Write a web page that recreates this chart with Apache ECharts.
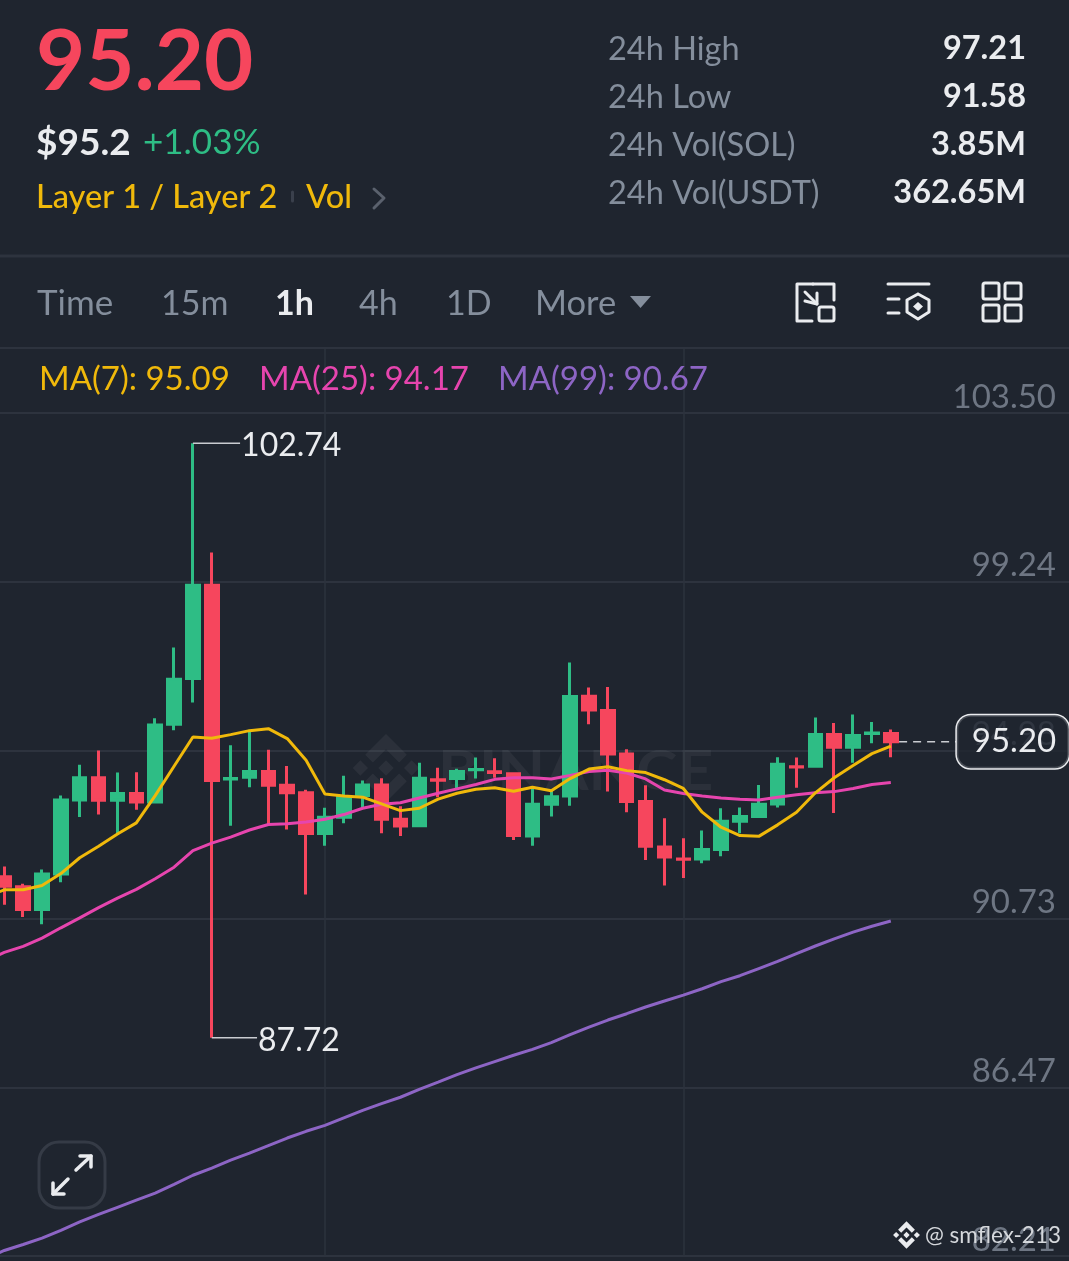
<!DOCTYPE html>
<html><head><meta charset="utf-8">
<style>html,body{margin:0;padding:0;background:#1f252f}#c{width:1069px;height:1261px}</style>
<script src="https://cdn.jsdelivr.net/npm/echarts@6/dist/echarts.min.js"></script>
</head><body><div id="c"></div>
<script>
// Candles: open, close, low, high
const opens  = ['-',91.79,91.54,90.96,91.86,93.73,94.29,93.72,93.89,93.68,95.64,96.80,99.15,94.26,94.30,94.45,94.10,93.91,92.88,93.29,93.84,94.11,93.24,93.08,94.24,94.27,94.49,94.44,94.39,92.82,93.62,93.83,96.35,95.99,94.89,93.69,92.54,92.24,92.24,92.48,93.19,93.31,93.63,94.57,94.58,95.38,95.06,95.41,95.41];
const closes = ['-',91.55,90.96,91.86,93.73,94.29,93.72,93.89,93.68,95.62,96.78,99.15,94.22,94.27,94.45,94.10,93.91,92.88,93.29,93.79,94.11,93.24,93.07,94.28,94.23,94.45,94.50,94.42,92.83,93.62,93.81,96.34,96.00,94.89,93.69,92.56,92.29,92.23,92.48,93.19,93.31,93.62,94.63,94.56,95.38,95.06,95.36,95.42,95.20];
const lows   = ['-',91.08,90.77,90.59,91.65,93.30,93.36,92.89,93.48,93.68,95.49,96.19,87.72,93.08,94.05,93.11,92.98,91.34,92.57,93.14,93.55,92.89,92.82,93.08,93.80,94.01,94.27,94.29,92.72,92.57,93.31,93.58,95.64,93.94,93.42,92.21,91.57,91.76,92.13,92.31,92.89,93.29,93.54,94.04,94.58,93.40,94.67,95.16,94.81];
const highs  = ['-',92.05,91.61,91.97,93.84,94.62,94.98,94.42,94.43,95.79,97.58,102.74,99.98,95.11,95.50,95.00,94.59,93.99,93.53,94.34,94.22,94.28,93.57,94.67,94.54,94.52,94.80,94.78,94.42,94.01,93.97,97.20,96.57,96.58,95.01,94.10,93.27,92.76,92.96,93.52,93.54,94.11,94.81,94.80,95.81,95.67,95.89,95.70,95.51];
const ma7  = [91.27,91.46,91.46,91.57,91.87,92.27,92.56,92.87,93.15,93.84,94.58,95.32,95.29,95.38,95.48,95.53,95.28,94.73,93.88,93.83,93.80,93.63,93.46,93.52,93.75,93.90,94.00,94.04,93.95,94.05,93.96,94.27,94.51,94.57,94.47,94.42,94.24,94.02,93.42,93.04,92.83,92.81,93.10,93.42,93.91,94.29,94.60,94.90,95.09];
const ma25 = [89.66,89.88,90.03,90.24,90.50,90.75,91.01,91.25,91.47,91.74,92.03,92.45,92.64,92.79,92.97,93.11,93.13,93.17,93.24,93.36,93.52,93.62,93.66,93.78,93.90,94.01,94.12,94.25,94.29,94.29,94.26,94.35,94.45,94.48,94.41,94.26,93.98,93.89,93.83,93.78,93.75,93.73,93.80,93.86,93.91,93.94,94.02,94.12,94.17];
const ma99 = [82.15,82.35,82.50,82.66,82.86,83.07,83.26,83.44,83.62,83.80,84.02,84.25,84.43,84.63,84.81,85.00,85.19,85.36,85.51,85.70,85.89,86.06,86.22,86.42,86.60,86.79,86.96,87.12,87.28,87.43,87.60,87.80,87.99,88.17,88.33,88.50,88.65,88.80,88.96,89.14,89.29,89.47,89.65,89.85,90.04,90.22,90.39,90.54,90.67];
const yTicks = [82.21,86.47,90.73,94.98,99.24,103.50];
const hourLabels = Array.from({length:58},(_, i)=>'h'+i);
const highMark = 102.74, lowMark = 87.72, lastPrice = 95.20;
const candles = opens.map((o,i)=>[o,closes[i],lows[i],highs[i]]);

const FONT='Lato';
const BG='#1f252f', GRID='#2d333e', RED='#f6465d', GREEN='#2ebd85', YEL='#f0b90b', PINK='#e645ae', PUR='#8d65c5', GRAY='#848e9c', WHITE='#eaecef', AXIS='#6e7683';

const T=(text,x,y,size,fill,weight,align)=>({type:'text',z:10,x,y,style:{text,fontFamily:FONT,fontSize:size,fill,fontWeight:weight||400,textAlign:align||'left',textVerticalAlign:'middle'}});
const L=(x1,y1,x2,y2,stroke,w)=>({type:'line',z:10,shape:{x1,y1,x2,y2},style:{stroke,lineWidth:w||3,lineCap:'round'}});
const R=(x,y,w,h,r,stroke,lw,fill)=>({type:'rect',z:10,shape:{x,y,width:w,height:h,r},style:{stroke,lineWidth:lw||3,fill:fill||'none'}});
const P=(pts,stroke,lw,fill,z)=>({type:fill?'polygon':'polyline',z:z||10,shape:{points:pts},style:fill?{fill}:{stroke,lineWidth:lw||3,lineCap:'round',lineJoin:'round',fill:'none'}});
const logoUnit=[[[-25.27,-10.8],[0,-36.07],[25.28,-10.79],[39.98,-25.49],[0,-65.47],[-39.97,-25.5]],[[-25.27,10.8],[0,36.07],[25.28,10.79],[39.98,25.49],[0,65.47],[-39.97,25.5]],[[-64,0],[-49.3,-14.7],[-34.6,0],[-49.3,14.7]],[[64,0],[49.3,-14.7],[34.6,0],[49.3,14.7]],[[-14.9,0],[0,-14.9],[14.9,0],[0,14.9]]];
const logo=(cx,cy,s,fill,z)=>logoUnit.map(poly=>P(poly.map(p=>[cx+p[0]*s,cy+p[1]*s]),null,0,fill,z));

const graphics=[
  // header
  T('95.20',36,63,85,RED,700),
  T('$95.2',36,143,37,WHITE,700),
  T('+1.03%',143,143,35,GREEN,400),
  T('Layer 1 / Layer 2',36,198,32.5,YEL,500),
  L(292.5,192,292.5,201,'#3a404c',3),
  T('Vol',306,198,32.5,YEL,500),
  P([[374,189],[384,198],[374,208]],'#5a616d',3),
  T('24h High',608,50,32.5,GRAY),T('24h Low',608,98,32.5,GRAY),T('24h Vol(SOL)',608,146,32.5,GRAY),T('24h Vol(USDT)',608,194,32.5,GRAY),
  T('97.21',1026,49,32.5,WHITE,700,'right'),T('91.58',1026,97,32.5,WHITE,700,'right'),T('3.85M',1026,145,32.5,WHITE,700,'right'),T('362.65M',1026,193,32.5,WHITE,700,'right'),
  L(0,256,1069,256,GRID,3),
  L(0,348,1069,348,GRID,2),
  // tabs
  T('Time',37,304,35,GRAY),T('15m',161,304,34,GRAY),T('1h',275,304,34,WHITE,700),T('4h',359,304,34,GRAY),T('1D',446,304,34,GRAY),T('More',535,304,34.5,GRAY),
  P([[630,296],[651,296],[640.5,308]],null,0,GRAY),
  // icons
  P([[813,284],[834,284],[834,300]],WHITE,3),P([[813,284],[797,284],[797,321],[812,321]],WHITE,3),
  R(819,307,15,14,2,WHITE,3),P([[805,292],[817,304]],WHITE,3),P([[805,301],[817,304],[817,293]],WHITE,3),
  L(888,284,929,284,WHITE,3),L(888,299,899,299,WHITE,3),L(888,313,899,313,WHITE,3),
  P([[918,294],[929,300],[929,312],[918,319],[907,312],[907,300],[918,294]],WHITE,3),
  P([[918,302],[923,306.5],[918,311],[913,306.5]],null,0,WHITE),
  R(983,283,16,16,2,WHITE,3),R(1005,283,16,16,2,WHITE,3),R(983,305,16,16,2,WHITE,3),R(1005,305,16,16,2,WHITE,3),
  // legend
  T('MA(7): 95.09',39,379,33,YEL),T('MA(25): 94.17',259,379,33,PINK),T('MA(99): 90.67',498,379,33,PUR),
  // expand
  R(39,1142,66,66,20,'#353b46',3),
  L(76,1170,91,1156,WHITE,3.5),P([[80,1156],[91,1156],[91,1167]],WHITE,3.5),
  L(68,1179,53,1194,WHITE,3.5),P([[53,1183],[53,1194],[64,1194]],WHITE,3.5),
  // author
  ...logo(906.5,1235,0.21,WHITE),
  T('@ smflex-213',925,1236,22.5,'#d5d8dc'),
];
// watermark below the series
const watermark=[...logo(386,768,0.52,'rgba(255,255,255,0.055)',1),
  {type:'text',z:1,x:438,y:772,scaleX:1.11,style:{text:'BINANCE',fontFamily:FONT,fontSize:56,fontWeight:700,fill:'rgba(255,255,255,0.055)',textVerticalAlign:'middle'}}];

const leader=(from,to,val,txt,dist,dy)=>({type:'line',xAxisIndex:1,data:[[from,val],[to,val]],showSymbol:false,z:6,silent:true,
  lineStyle:{color:'#c9ccd1',width:1.5},
  endLabel:{show:true,formatter:txt,distance:dist,offset:[0,dy],color:WHITE,fontFamily:FONT,fontSize:32}});

const chart=echarts.init(document.getElementById('c'));
chart.setOption({
  animation:false,
  backgroundColor:BG,
  grid:{left:-24,width:1094,top:349,bottom:5,containLabel:false,outerBoundsMode:'none'},
  xAxis:[{type:'category',data:hourLabels,boundaryGap:true,
    axisLine:{show:false},axisTick:{show:false},axisLabel:{show:false},
    splitLine:{show:true,alignWithLabel:true,interval:(i)=>i===18||i===37,lineStyle:{color:GRID,width:1.5}}},
    {type:'value',min:-0.5,max:57.5,show:false}],
  yAxis:{type:'value',position:'right',min:82.21,max:105.12,scale:true,
    axisLine:{show:false},
    axisTick:{show:false,customValues:yTicks},
    axisLabel:{inside:true,customValues:yTicks,margin:14,verticalAlign:'bottom',lineHeight:32,color:AXIS,fontFamily:FONT,fontSize:33,formatter:v=>v.toFixed(2)},
    splitLine:{show:true,lineStyle:{color:GRID,width:2}}},
  graphic:{elements:[...watermark,...graphics]},
  series:[
    {type:'candlestick',name:'Price',data:candles,barWidth:13,z:3,clip:true,
      itemStyle:{color:GREEN,color0:RED,borderColor:GREEN,borderColor0:RED,borderWidth:3}},
    {type:'line',name:'MA(7)',data:ma7,showSymbol:false,z:5,lineStyle:{color:YEL,width:3}},
    {type:'line',name:'MA(25)',data:ma25,showSymbol:false,z:4,lineStyle:{color:PINK,width:3}},
    {type:'line',name:'MA(99)',data:ma99,showSymbol:false,z:4,lineStyle:{color:PUR,width:3}},
    leader(11,13.5,highMark,'102.74',1,2),
    leader(12,14.4,lowMark,'87.72',1,3),
    {type:'line',xAxisIndex:1,data:[[48.44,lastPrice],[51.5,lastPrice]],showSymbol:false,z:7,silent:true,
      lineStyle:{color:'#c9ccd1',width:1.5,type:[8,6]},
      endLabel:{show:true,formatter:'95.20',distance:0,color:WHITE,fontFamily:FONT,fontSize:33,width:97,height:50,lineHeight:50,padding:[3,0,0,15],align:'left',backgroundColor:'rgba(31,37,47,0.8)',borderColor:WHITE,borderWidth:1.5,borderRadius:14}}
  ]
});
</script></body></html>
